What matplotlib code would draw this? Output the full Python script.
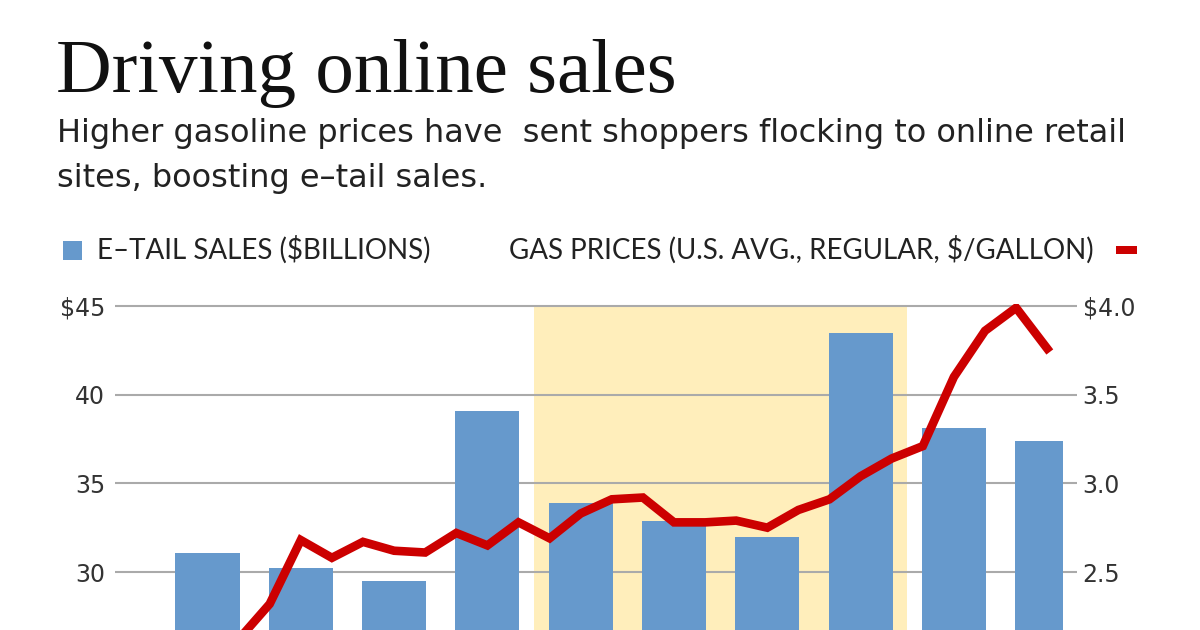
import matplotlib
matplotlib.use("Agg")
import matplotlib.pyplot as plt
from matplotlib.patches import Rectangle
import numpy as np

# quarterly e-tail sales ($ billions), ten quarters
quarters = ["Q1", "Q2", "Q3", "Q4", "Q1", "Q2", "Q3", "Q4", "Q1", "Q2"]
sales = [31.1, 30.2, 29.5, 39.1, 33.9, 32.9, 32.0, 43.5, 38.1, 37.4]

# monthly gas price (U.S. avg., regular, $/gallon), from month 3 of the span
gas_month_start = 2
gas = [2.12, 2.32, 2.68, 2.58, 2.67, 2.62, 2.61, 2.72, 2.65, 2.78,
       2.69, 2.83, 2.91, 2.92, 2.78, 2.78, 2.79, 2.75, 2.85, 2.91,
       3.04, 3.14, 3.21, 3.60, 3.86, 3.99, 3.76]

# shaded quarters (the middle year)
shade_quarters = [4, 7]

left_ticks = [30, 35, 40, 45]
left_labels = ["30", "35", "40", "$45"]
right_ticks = [2.5, 3.0, 3.5, 4.0]
right_labels = ["2.5", "3.0", "3.5", "$4.0"]

title = "Driving online sales"
subtitle_lines = ["Higher gasoline prices have  sent shoppers flocking to online retail",
                  "sites, boosting e\u2013tail sales."]
legend_bar = "E\u2013TAIL SALES ($BILLIONS)"
legend_line = "GAS PRICES (U.S. AVG., REGULAR, $/GALLON)"

BLUE = "#6699CC"
RED = "#CC0000"
SHADE = "#FFEEBB"
GRID = "#AAAAAA"
TXT = "#222222"
SANS = ["DejaVu Sans"]
LEG = ["Lato", "DejaVu Sans"]

W, H = 1200, 630
fig = plt.figure(figsize=(12, 6.3), dpi=100)


def fx(px):
    return px / W


def fy(py):
    return 1 - py / H


# axes placement (pixels): plot spans x 115..1077, value 45 at y=306
x_left_px, x_right_px = 115, 1077
ppu = 88.7 / 5  # pixels per $1bn
y_top_val = 45.1
y_bot_val = 30 - (H - 572) / ppu
top_px = 306 - (y_top_val - 45) * ppu
ax = fig.add_axes([fx(x_left_px), 0, fx(x_right_px) - fx(x_left_px), 1 - top_px / H])

slot = 93.3
ax.set_xlim((x_left_px - 207.5) / slot, (x_right_px - 207.5) / slot)
ax.set_ylim(y_bot_val, y_top_val)

# shading behind everything
ax.fill_between([shade_quarters[0] - 0.5, shade_quarters[1] + 0.5], y_bot_val, 45,
                color=SHADE, lw=0, zorder=0)

# gridlines
for t in left_ticks:
    ax.axhline(t, color=GRID, lw=1.5, zorder=1)

# bars (last quarter is partial -> narrower bar)
idx = np.arange(len(sales))
full_w = 0.686
widths = [full_w] * (len(sales) - 1) + [0.51]
ax.bar(idx - full_w / 2, sales, width=widths, align="edge", color=BLUE, zorder=2)

ax.set_yticks(left_ticks)
ax.set_yticklabels(left_labels)
ax.set_xticks([])
ax.tick_params(axis="y", length=0, pad=7, labelsize=17, labelcolor="#333333")
for lab in ax.get_yticklabels():
    lab.set_family(SANS)
for s in ax.spines.values():
    s.set_visible(False)
ax.patch.set_visible(False)

# gas price line on the right axis
ax2 = ax.twinx()
ax2.set_ylim(y_bot_val / 10 - 0.5, y_top_val / 10 - 0.5)
months = np.arange(gas_month_start, gas_month_start + len(gas))
ax2.plot((months - 1) / 3, gas, color=RED, lw=6.2, solid_joinstyle="miter", zorder=3)
ax2.set_yticks(right_ticks)
ax2.set_yticklabels(right_labels)
ax2.tick_params(axis="y", length=0, pad=4, labelsize=17, labelcolor="#333333")
for lab in ax2.get_yticklabels():
    lab.set_family(SANS)
for s in ax2.spines.values():
    s.set_visible(False)

# title and subtitle
fig.text(fx(56), fy(92), title, family=["Liberation Serif", "DejaVu Serif"],
         fontsize=55.5, color="#111111", va="baseline", ha="left")
for i, line in enumerate(subtitle_lines):
    fig.text(fx(57), fy(142 + 45 * i), line, family=SANS, fontsize=23, color=TXT,
             va="baseline", ha="left")

# legend
fig.add_artist(Rectangle((fx(63), fy(260)), fx(19), 19 / H, transform=fig.transFigure,
                         color=BLUE, lw=0))
fig.text(fx(97), fy(250), legend_bar, family=LEG, fontsize=20, color=TXT,
         va="center", ha="left")
fig.text(fx(1094), fy(250), legend_line, family=LEG, fontsize=20, color=TXT,
         va="center", ha="right")
fig.add_artist(Rectangle((fx(1116), fy(254)), fx(21), 8 / H, transform=fig.transFigure,
                         color=RED, lw=0))

fig.savefig("out.png", dpi=100)
